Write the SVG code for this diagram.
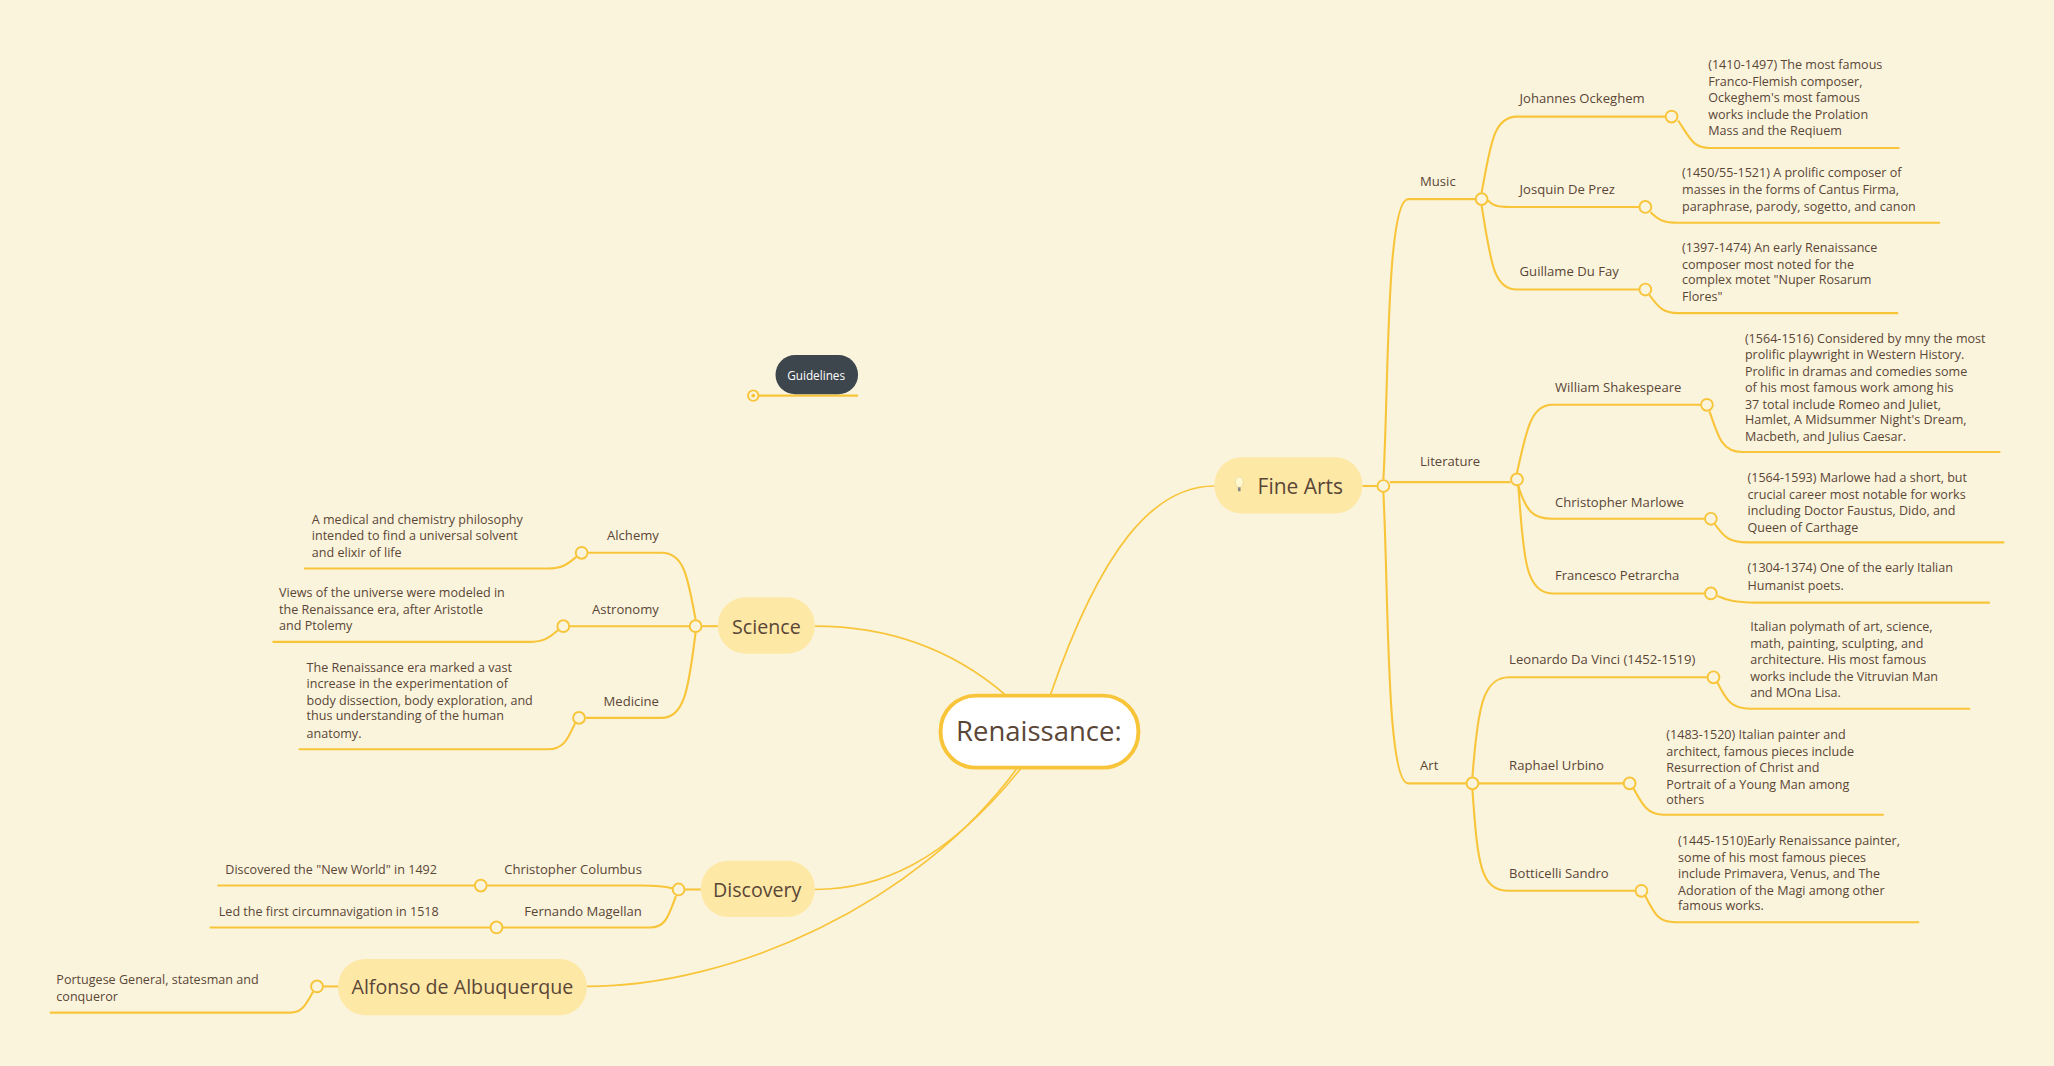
<svg xmlns="http://www.w3.org/2000/svg" width="2054" height="1066" viewBox="0 0 2054 1066">
<style>
.l{fill:none;stroke:#F8C53A;stroke-width:1.6}
.m{fill:none;stroke:#F8C53A;stroke-width:1.3}
.c{fill:#FBF4DD;stroke:#F8C53A;stroke-width:1.5}
.t{font-family:"Open Sans","Liberation Sans",sans-serif;fill:#5a4636}
.d{font-size:9.6px}
.s{font-size:10px}
.r{text-anchor:end}
.n{fill:#FEE8A6}
.mid{text-anchor:middle}
</style>
<rect width="2054" height="1066" fill="#FBF4DD"/>
<g transform="scale(1.31)">
<g id="connectors">
<path class="m" d="M802,530 C840,420 880,371 927,371"/>
<path class="m" d="M767,530 C720,490 670,478 622,478"/>
<path class="m" d="M779,587 C720,660 670,679 622,679"/>
<path class="m" d="M776,587 C700,690 560,753 448,753"/>
<path class="l" d="M575,302 H655"/>
<!-- Fine arts -->
<path class="l" d="M1040,371 H1051"/>
<path class="l" d="M1056,366 C1060,300 1058,152 1075,152 H1126"/>
<path class="l" d="M1061,368 H1153"/>
<path class="l" d="M1056,376 C1060,450 1058,598 1075,598 H1119"/>
<path class="l" d="M1131,147 C1138,110 1140,89 1158,89 H1271 M1281,92 C1290,105 1292,113 1305,113 H1450"/>
<path class="l" d="M1136,153 C1140,158 1145,158 1158,158 H1251 M1260,162 C1266,168 1270,170 1281,170 H1481"/>
<path class="l" d="M1131,157 C1138,200 1140,221 1158,221 H1251 M1259,225 C1266,235 1270,239 1281,239 H1449"/>
<path class="l" d="M1158,361 C1165,330 1168,309 1185,309 H1298 M1305,314 C1312,335 1315,345 1330,345 H1527"/>
<path class="l" d="M1159,371 C1165,390 1170,396 1185,396 H1301 M1309,400 C1316,410 1320,414 1334,414 H1530"/>
<path class="l" d="M1159,371 C1163,420 1163,453 1185,453 H1301 M1311,455 C1318,458 1324,460 1340,460 H1519"/>
<path class="l" d="M1124,593 C1128,540 1132,517 1152,517 H1303 M1311,521 C1318,535 1322,541 1336,541 H1504"/>
<path class="l" d="M1129,598 H1239 M1247,602 C1254,615 1258,622 1270,622 H1438"/>
<path class="l" d="M1124,603 C1128,660 1130,680 1152,680 H1248 M1256,684 C1263,698 1266,704 1279,704 H1465"/>
<!-- Science -->
<path class="l" d="M536,478 H548"/>
<path class="l" d="M531,473 C525,440 522,422 505,422 H449 M440,425 C434,430 430,434 418,434 H232"/>
<path class="l" d="M526,478 H435 M426,481 C420,486 416,490 404,490 H208"/>
<path class="l" d="M531,483 C526,520 524,548 505,548 H447 M439,552 C433,565 430,572 418,572 H228"/>
<!-- Discovery -->
<path class="l" d="M523,679 H535"/>
<path class="l" d="M513,678 C505,676 500,676 490,676 H372 M362,676 H166"/>
<path class="l" d="M516,684 C510,700 508,708 496,708 H384 M374,708 H160"/>
<!-- Alfonso -->
<path class="l" d="M247,753 H258"/>
<path class="l" d="M239,757 C233,768 230,773 222,773 H38"/>
</g>
<g id="hubs">
<circle class="c" cx="1056" cy="371" r="4.5"/>
<circle class="c" cx="1131" cy="152" r="4.5"/>
<circle class="c" cx="1158" cy="366" r="4.5"/>
<circle class="c" cx="1124" cy="598" r="4.5"/>
<circle class="c" cx="1276" cy="89" r="4.5"/>
<circle class="c" cx="1256" cy="158" r="4.5"/>
<circle class="c" cx="1256" cy="221" r="4.5"/>
<circle class="c" cx="1303" cy="309" r="4.5"/>
<circle class="c" cx="1306" cy="396" r="4.5"/>
<circle class="c" cx="1306" cy="453" r="4.5"/>
<circle class="c" cx="1308" cy="517" r="4.5"/>
<circle class="c" cx="1244" cy="598" r="4.5"/>
<circle class="c" cx="1253" cy="680" r="4.5"/>
<circle class="c" cx="531" cy="478" r="4.5"/>
<circle class="c" cx="444" cy="422" r="4.5"/>
<circle class="c" cx="430" cy="478" r="4.5"/>
<circle class="c" cx="442" cy="548" r="4.5"/>
<circle class="c" cx="518" cy="679" r="4.5"/>
<circle class="c" cx="367" cy="676" r="4.5"/>
<circle class="c" cx="379" cy="708" r="4.5"/>
<circle class="c" cx="242" cy="753" r="4.5"/>
<circle class="c" cx="575" cy="302" r="4"/>
<circle cx="575" cy="302" r="1.5" fill="#F8C53A"/>
</g>
<g id="center">
<rect x="718" y="531" width="151" height="55" rx="27" fill="#fff" stroke="#F8C53A" stroke-width="3"/>
<text class="t mid" x="793" y="566" font-size="21">Renaissance:</text>
</g>
<g id="fine-arts">
<rect class="n" x="927" y="349" width="113" height="43" rx="21"/>
<ellipse cx="946" cy="368" rx="3" ry="4" fill="#fff8d0" stroke="#e8d9a0" stroke-width="0.6"/>
<rect x="945" y="372" width="2" height="3" fill="#888"/>
<text class="t" x="960" y="377" font-size="16">Fine Arts</text>
</g>
<g id="science"><rect class="n" x="548" y="456" width="74" height="43" rx="21"/><text class="t mid" x="585" y="484" font-size="15">Science</text></g>
<g id="discovery"><rect class="n" x="535" y="657" width="87" height="43" rx="21"/><text class="t mid" x="578" y="685" font-size="15">Discovery</text></g>
<g id="alfonso"><rect class="n" x="258" y="732" width="190" height="43" rx="21"/><text class="t mid" x="353" y="759" font-size="15">Alfonso de Albuquerque</text></g>
<g id="guidelines"><rect x="592" y="271" width="63" height="30" rx="15" fill="#3d464d"/><text class="t mid" x="623" y="290" font-size="9" style="fill:#fff">Guidelines</text></g>
<g id="labels" class="t s">
<text x="1084" y="142">Music</text>
<text x="1084" y="356">Literature</text>
<text x="1084" y="588">Art</text>
<text x="1160" y="79">Johannes Ockeghem</text>
<text x="1160" y="148">Josquin De Prez</text>
<text x="1160" y="211">Guillame Du Fay</text>
<text x="1187" y="299">William Shakespeare</text>
<text x="1187" y="387">Christopher Marlowe</text>
<text x="1187" y="443">Francesco Petrarcha</text>
<text x="1152" y="507">Leonardo Da Vinci (1452-1519)</text>
<text x="1152" y="588">Raphael Urbino</text>
<text x="1152" y="670">Botticelli Sandro</text>
<text class="r" x="503" y="412">Alchemy</text>
<text class="r" x="503" y="469">Astronomy</text>
<text class="r" x="503" y="539">Medicine</text>
<text class="r" x="490" y="667">Christopher Columbus</text>
<text class="r" x="490" y="699">Fernando Magellan</text>
</g>
<g id="details" class="t d">
<text x="1304" y="53">(1410-1497) The most famous</text>
<text x="1304" y="66">Franco-Flemish composer,</text>
<text x="1304" y="78">Ockeghem's most famous</text>
<text x="1304" y="91">works include the Prolation</text>
<text x="1304" y="103">Mass and the Reqiuem</text>
<text x="1284" y="135">(1450/55-1521) A prolific composer of</text>
<text x="1284" y="148">masses in the forms of Cantus Firma,</text>
<text x="1284" y="161">paraphrase, parody, sogetto, and canon</text>
<text x="1284" y="192">(1397-1474) An early Renaissance</text>
<text x="1284" y="205">composer most noted for the</text>
<text x="1284" y="217">complex motet "Nuper Rosarum</text>
<text x="1284" y="230">Flores"</text>
<text x="1332" y="262">(1564-1516) Considered by mny the most</text>
<text x="1332" y="274">prolific playwright in Western History.</text>
<text x="1332" y="287">Prolific in dramas and comedies some</text>
<text x="1332" y="299">of his most famous work among his</text>
<text x="1332" y="312">37 total include Romeo and Juliet,</text>
<text x="1332" y="324">Hamlet, A Midsummer Night's Dream,</text>
<text x="1332" y="337">Macbeth, and Julius Caesar.</text>
<text x="1334" y="368">(1564-1593) Marlowe had a short, but</text>
<text x="1334" y="381">crucial career most notable for works</text>
<text x="1334" y="393">including Doctor Faustus, Dido, and</text>
<text x="1334" y="406">Queen of Carthage</text>
<text x="1334" y="437">(1304-1374) One of the early Italian</text>
<text x="1334" y="450">Humanist poets.</text>
<text x="1336" y="482">Italian polymath of art, science,</text>
<text x="1336" y="495">math, painting, sculpting, and</text>
<text x="1336" y="507">architecture.  His most famous</text>
<text x="1336" y="520">works include the Vitruvian Man</text>
<text x="1336" y="532">and MOna Lisa.</text>
<text x="1272" y="564">(1483-1520) Italian painter and</text>
<text x="1272" y="577">architect, famous pieces include</text>
<text x="1272" y="589">Resurrection of Christ and</text>
<text x="1272" y="602">Portrait of a Young Man among</text>
<text x="1272" y="614">others</text>
<text x="1281" y="645">(1445-1510)Early Renaissance painter,</text>
<text x="1281" y="658">some of his most famous pieces</text>
<text x="1281" y="670">include Primavera, Venus, and The</text>
<text x="1281" y="683">Adoration of the Magi among other</text>
<text x="1281" y="695">famous works.</text>
<text x="238" y="400">A medical and chemistry philosophy</text>
<text x="238" y="412">intended to find a universal solvent</text>
<text x="238" y="425">and elixir of life</text>
<text x="213" y="456">Views of the universe were modeled in</text>
<text x="213" y="469">the Renaissance era, after Aristotle</text>
<text x="213" y="481">and Ptolemy</text>
<text x="234" y="513">The Renaissance era marked a vast</text>
<text x="234" y="525">increase in the experimentation of</text>
<text x="234" y="538">body dissection, body exploration, and</text>
<text x="234" y="550">thus understanding of the human</text>
<text x="234" y="563">anatomy.</text>
<text x="172" y="667">Discovered the "New World" in 1492</text>
<text x="167" y="699">Led the first circumnavigation in 1518</text>
<text x="43" y="751">Portugese General, statesman and</text>
<text x="43" y="764">conqueror</text>
</g>
</g>
</svg>
